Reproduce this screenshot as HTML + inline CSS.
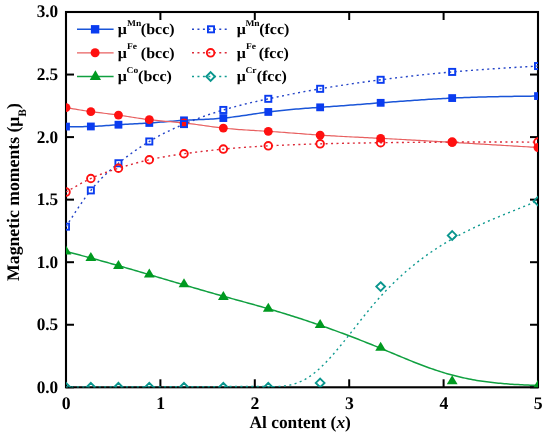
<!DOCTYPE html>
<html><head><meta charset="utf-8"><style>
html,body{margin:0;padding:0;background:#fff;}
svg{display:block;}
text{font-family:"Liberation Serif","Times New Roman",serif;font-weight:bold;fill:#000;text-rendering:geometricPrecision;}
.tk{font-size:17.7px;}
.lg{font-size:16px;}
.sup{font-size:9.5px;}
.sub{font-size:11.5px;}
.ax{font-size:17.4px;}
.ay{font-size:17.7px;}
</style></head><body>
<svg width="550" height="439" viewBox="0 0 550 439">
<defs><clipPath id="pa"><rect x="66" y="12" width="472" height="375.30"/></clipPath></defs>
<rect width="550" height="439" fill="#fff"/>
<line x1="66.00" y1="387.3" x2="66.00" y2="379.30" stroke="#000" stroke-width="2"/>
<line x1="66.00" y1="12" x2="66.00" y2="20" stroke="#000" stroke-width="2"/>
<line x1="160.40" y1="387.3" x2="160.40" y2="379.30" stroke="#000" stroke-width="2"/>
<line x1="160.40" y1="12" x2="160.40" y2="20" stroke="#000" stroke-width="2"/>
<line x1="254.80" y1="387.3" x2="254.80" y2="379.30" stroke="#000" stroke-width="2"/>
<line x1="254.80" y1="12" x2="254.80" y2="20" stroke="#000" stroke-width="2"/>
<line x1="349.20" y1="387.3" x2="349.20" y2="379.30" stroke="#000" stroke-width="2"/>
<line x1="349.20" y1="12" x2="349.20" y2="20" stroke="#000" stroke-width="2"/>
<line x1="443.60" y1="387.3" x2="443.60" y2="379.30" stroke="#000" stroke-width="2"/>
<line x1="443.60" y1="12" x2="443.60" y2="20" stroke="#000" stroke-width="2"/>
<line x1="538.00" y1="387.3" x2="538.00" y2="379.30" stroke="#000" stroke-width="2"/>
<line x1="538.00" y1="12" x2="538.00" y2="20" stroke="#000" stroke-width="2"/>
<line x1="66" y1="387.30" x2="74" y2="387.30" stroke="#000" stroke-width="2"/>
<line x1="538" y1="387.30" x2="530" y2="387.30" stroke="#000" stroke-width="2"/>
<line x1="66" y1="324.75" x2="74" y2="324.75" stroke="#000" stroke-width="2"/>
<line x1="538" y1="324.75" x2="530" y2="324.75" stroke="#000" stroke-width="2"/>
<line x1="66" y1="262.20" x2="74" y2="262.20" stroke="#000" stroke-width="2"/>
<line x1="538" y1="262.20" x2="530" y2="262.20" stroke="#000" stroke-width="2"/>
<line x1="66" y1="199.65" x2="74" y2="199.65" stroke="#000" stroke-width="2"/>
<line x1="538" y1="199.65" x2="530" y2="199.65" stroke="#000" stroke-width="2"/>
<line x1="66" y1="137.10" x2="74" y2="137.10" stroke="#000" stroke-width="2"/>
<line x1="538" y1="137.10" x2="530" y2="137.10" stroke="#000" stroke-width="2"/>
<line x1="66" y1="74.55" x2="74" y2="74.55" stroke="#000" stroke-width="2"/>
<line x1="538" y1="74.55" x2="530" y2="74.55" stroke="#000" stroke-width="2"/>
<line x1="66" y1="12.00" x2="74" y2="12.00" stroke="#000" stroke-width="2"/>
<line x1="538" y1="12.00" x2="530" y2="12.00" stroke="#000" stroke-width="2"/>
<rect x="66" y="12" width="472" height="375.30" fill="none" stroke="#000" stroke-width="2.1"/>
<g clip-path="url(#pa)">
<path d="M66.00,126.59 L68.37,126.62 L70.74,126.64 L73.12,126.66 L75.49,126.67 L77.86,126.68 L80.23,126.67 L82.60,126.65 L84.97,126.62 L87.35,126.57 L89.72,126.51 L92.09,126.42 L94.46,126.31 L96.83,126.19 L99.21,126.05 L101.58,125.90 L103.95,125.74 L106.32,125.57 L108.69,125.40 L111.07,125.23 L113.44,125.06 L115.81,124.89 L118.18,124.73 L120.55,124.58 L122.92,124.44 L125.30,124.30 L127.67,124.17 L130.04,124.05 L132.41,123.92 L134.78,123.80 L137.16,123.68 L139.53,123.55 L141.90,123.42 L144.27,123.28 L146.64,123.14 L149.02,122.98 L151.39,122.82 L153.76,122.65 L156.13,122.47 L158.50,122.28 L160.87,122.09 L163.25,121.90 L165.62,121.71 L167.99,121.51 L170.36,121.32 L172.73,121.13 L175.11,120.95 L177.48,120.77 L179.85,120.61 L182.22,120.45 L184.59,120.30 L186.96,120.17 L189.34,120.04 L191.71,119.92 L194.08,119.81 L196.45,119.71 L198.82,119.60 L201.20,119.49 L203.57,119.38 L205.94,119.27 L208.31,119.15 L210.68,119.02 L213.06,118.88 L215.43,118.72 L217.80,118.55 L220.17,118.37 L222.54,118.16 L224.91,117.93 L227.29,117.68 L229.66,117.41 L232.03,117.13 L234.40,116.82 L236.77,116.51 L239.15,116.18 L241.52,115.84 L243.89,115.50 L246.26,115.15 L248.63,114.80 L251.01,114.44 L253.38,114.08 L255.75,113.73 L258.12,113.38 L260.49,113.03 L262.86,112.69 L265.24,112.36 L267.61,112.04 L269.98,111.74 L272.35,111.45 L274.72,111.17 L277.10,110.90 L279.47,110.64 L281.84,110.40 L284.21,110.16 L286.58,109.94 L288.95,109.72 L291.33,109.51 L293.70,109.30 L296.07,109.11 L298.44,108.92 L300.81,108.73 L303.19,108.55 L305.56,108.37 L307.93,108.20 L310.30,108.03 L312.67,107.86 L315.05,107.69 L317.42,107.52 L319.79,107.35 L322.16,107.18 L324.53,107.01 L326.90,106.84 L329.28,106.67 L331.65,106.50 L334.02,106.33 L336.39,106.15 L338.76,105.98 L341.14,105.80 L343.51,105.63 L345.88,105.45 L348.25,105.27 L350.62,105.10 L352.99,104.92 L355.37,104.74 L357.74,104.56 L360.11,104.38 L362.48,104.20 L364.85,104.02 L367.23,103.84 L369.60,103.66 L371.97,103.48 L374.34,103.30 L376.71,103.12 L379.09,102.94 L381.46,102.76 L383.83,102.58 L386.20,102.40 L388.57,102.22 L390.94,102.04 L393.32,101.86 L395.69,101.68 L398.06,101.51 L400.43,101.33 L402.80,101.16 L405.18,100.98 L407.55,100.81 L409.92,100.64 L412.29,100.47 L414.66,100.31 L417.04,100.14 L419.41,99.98 L421.78,99.82 L424.15,99.66 L426.52,99.51 L428.89,99.36 L431.27,99.21 L433.64,99.07 L436.01,98.93 L438.38,98.79 L440.75,98.66 L443.13,98.53 L445.50,98.40 L447.87,98.28 L450.24,98.16 L452.61,98.05 L454.98,97.94 L457.36,97.84 L459.73,97.74 L462.10,97.64 L464.47,97.55 L466.84,97.46 L469.22,97.38 L471.59,97.30 L473.96,97.23 L476.33,97.15 L478.70,97.09 L481.08,97.02 L483.45,96.96 L485.82,96.90 L488.19,96.84 L490.56,96.79 L492.93,96.73 L495.31,96.68 L497.68,96.64 L500.05,96.59 L502.42,96.55 L504.79,96.51 L507.17,96.47 L509.54,96.43 L511.91,96.40 L514.28,96.36 L516.65,96.33 L519.03,96.30 L521.40,96.27 L523.77,96.24 L526.14,96.21 L528.51,96.18 L530.88,96.15 L533.26,96.12 L535.63,96.09 L538.00,96.07" fill="none" stroke="#1a55d8" stroke-width="1.5"/>
<path d="M66.00,107.58 L68.37,107.99 L70.74,108.39 L73.12,108.80 L75.49,109.20 L77.86,109.59 L80.23,109.98 L82.60,110.36 L84.97,110.72 L87.35,111.08 L89.72,111.42 L92.09,111.75 L94.46,112.06 L96.83,112.37 L99.21,112.66 L101.58,112.95 L103.95,113.24 L106.32,113.52 L108.69,113.81 L111.07,114.11 L113.44,114.41 L115.81,114.72 L118.18,115.04 L120.55,115.39 L122.92,115.74 L125.30,116.11 L127.67,116.48 L130.04,116.86 L132.41,117.24 L134.78,117.61 L137.16,117.99 L139.53,118.35 L141.90,118.71 L144.27,119.05 L146.64,119.37 L149.02,119.68 L151.39,119.96 L153.76,120.22 L156.13,120.46 L158.50,120.69 L160.87,120.91 L163.25,121.12 L165.62,121.32 L167.99,121.51 L170.36,121.71 L172.73,121.91 L175.11,122.11 L177.48,122.32 L179.85,122.54 L182.22,122.78 L184.59,123.03 L186.96,123.30 L189.34,123.58 L191.71,123.88 L194.08,124.19 L196.45,124.51 L198.82,124.83 L201.20,125.16 L203.57,125.50 L205.94,125.83 L208.31,126.16 L210.68,126.49 L213.06,126.81 L215.43,127.13 L217.80,127.43 L220.17,127.73 L222.54,128.00 L224.91,128.27 L227.29,128.51 L229.66,128.74 L232.03,128.96 L234.40,129.16 L236.77,129.35 L239.15,129.53 L241.52,129.70 L243.89,129.86 L246.26,130.02 L248.63,130.17 L251.01,130.32 L253.38,130.46 L255.75,130.60 L258.12,130.74 L260.49,130.87 L262.86,131.01 L265.24,131.16 L267.61,131.30 L269.98,131.45 L272.35,131.61 L274.72,131.77 L277.10,131.93 L279.47,132.10 L281.84,132.27 L284.21,132.44 L286.58,132.62 L288.95,132.80 L291.33,132.98 L293.70,133.16 L296.07,133.34 L298.44,133.52 L300.81,133.70 L303.19,133.88 L305.56,134.06 L307.93,134.23 L310.30,134.41 L312.67,134.58 L315.05,134.75 L317.42,134.91 L319.79,135.07 L322.16,135.23 L324.53,135.38 L326.90,135.53 L329.28,135.68 L331.65,135.82 L334.02,135.96 L336.39,136.10 L338.76,136.23 L341.14,136.36 L343.51,136.49 L345.88,136.61 L348.25,136.74 L350.62,136.86 L352.99,136.98 L355.37,137.10 L357.74,137.22 L360.11,137.34 L362.48,137.45 L364.85,137.57 L367.23,137.69 L369.60,137.80 L371.97,137.92 L374.34,138.04 L376.71,138.15 L379.09,138.27 L381.46,138.39 L383.83,138.51 L386.20,138.63 L388.57,138.76 L390.94,138.88 L393.32,139.01 L395.69,139.13 L398.06,139.26 L400.43,139.39 L402.80,139.52 L405.18,139.65 L407.55,139.78 L409.92,139.91 L412.29,140.04 L414.66,140.18 L417.04,140.31 L419.41,140.44 L421.78,140.58 L424.15,140.72 L426.52,140.85 L428.89,140.99 L431.27,141.13 L433.64,141.26 L436.01,141.40 L438.38,141.54 L440.75,141.68 L443.13,141.82 L445.50,141.96 L447.87,142.10 L450.24,142.24 L452.61,142.38 L454.98,142.52 L457.36,142.66 L459.73,142.80 L462.10,142.94 L464.47,143.08 L466.84,143.22 L469.22,143.36 L471.59,143.51 L473.96,143.65 L476.33,143.79 L478.70,143.93 L481.08,144.07 L483.45,144.21 L485.82,144.35 L488.19,144.50 L490.56,144.64 L492.93,144.78 L495.31,144.92 L497.68,145.06 L500.05,145.21 L502.42,145.35 L504.79,145.49 L507.17,145.63 L509.54,145.77 L511.91,145.92 L514.28,146.06 L516.65,146.20 L519.03,146.34 L521.40,146.49 L523.77,146.63 L526.14,146.77 L528.51,146.91 L530.88,147.06 L533.26,147.20 L535.63,147.34 L538.00,147.48" fill="none" stroke="#e86060" stroke-width="1.2"/>
<path d="M66.00,251.59 L67.97,252.08 L69.95,252.57 L71.92,253.07 L73.90,253.57 L75.87,254.07 L77.85,254.58 L79.82,255.09 L81.80,255.61 L83.77,256.12 L85.75,256.64 L87.72,257.17 L89.70,257.69 L91.67,258.22 L93.65,258.76 L95.62,259.29 L97.60,259.83 L99.57,260.37 L101.55,260.92 L103.52,261.46 L105.50,262.01 L107.47,262.56 L109.45,263.11 L111.42,263.67 L113.40,264.23 L115.37,264.78 L117.35,265.35 L119.32,265.91 L121.30,266.47 L123.27,267.04 L125.25,267.61 L127.22,268.18 L129.20,268.75 L131.17,269.32 L133.15,269.90 L135.12,270.47 L137.10,271.05 L139.07,271.62 L141.05,272.20 L143.02,272.78 L145.00,273.36 L146.97,273.94 L148.95,274.53 L150.92,275.11 L152.90,275.69 L154.87,276.27 L156.85,276.86 L158.82,277.44 L160.79,278.03 L162.77,278.61 L164.74,279.20 L166.72,279.78 L168.69,280.37 L170.67,280.95 L172.64,281.54 L174.62,282.12 L176.59,282.70 L178.57,283.29 L180.54,283.87 L182.52,284.45 L184.49,285.04 L186.47,285.62 L188.44,286.20 L190.42,286.78 L192.39,287.35 L194.37,287.93 L196.34,288.51 L198.32,289.08 L200.29,289.66 L202.27,290.23 L204.24,290.80 L206.22,291.37 L208.19,291.94 L210.17,292.50 L212.14,293.07 L214.12,293.63 L216.09,294.19 L218.07,294.75 L220.04,295.31 L222.02,295.86 L223.99,296.41 L225.97,296.96 L227.94,297.51 L229.92,298.05 L231.89,298.60 L233.87,299.14 L235.84,299.68 L237.82,300.23 L239.79,300.77 L241.77,301.31 L243.74,301.85 L245.72,302.39 L247.69,302.94 L249.67,303.48 L251.64,304.03 L253.62,304.58 L255.59,305.13 L257.56,305.68 L259.54,306.24 L261.51,306.80 L263.49,307.36 L265.46,307.92 L267.44,308.49 L269.41,309.07 L271.39,309.65 L273.36,310.23 L275.34,310.81 L277.31,311.41 L279.29,312.00 L281.26,312.60 L283.24,313.20 L285.21,313.81 L287.19,314.42 L289.16,315.04 L291.14,315.66 L293.11,316.29 L295.09,316.92 L297.06,317.55 L299.04,318.19 L301.01,318.83 L302.99,319.48 L304.96,320.13 L306.94,320.78 L308.91,321.44 L310.89,322.11 L312.86,322.78 L314.84,323.45 L316.81,324.12 L318.79,324.81 L320.76,325.49 L322.74,326.18 L324.71,326.87 L326.69,327.57 L328.66,328.27 L330.64,328.98 L332.61,329.69 L334.59,330.41 L336.56,331.13 L338.54,331.85 L340.51,332.58 L342.49,333.31 L344.46,334.05 L346.44,334.79 L348.41,335.53 L350.38,336.28 L352.36,337.04 L354.33,337.79 L356.31,338.56 L358.28,339.32 L360.26,340.09 L362.23,340.87 L364.21,341.65 L366.18,342.43 L368.16,343.22 L370.13,344.01 L372.11,344.81 L374.08,345.61 L376.06,346.41 L378.03,347.22 L380.01,348.03 L381.98,348.85 L383.96,349.67 L385.93,350.50 L387.91,351.32 L389.88,352.15 L391.86,352.98 L393.83,353.81 L395.81,354.64 L397.78,355.47 L399.76,356.29 L401.73,357.11 L403.71,357.93 L405.68,358.75 L407.66,359.56 L409.63,360.36 L411.61,361.16 L413.58,361.95 L415.56,362.74 L417.53,363.51 L419.51,364.28 L421.48,365.04 L423.46,365.78 L425.43,366.52 L427.41,367.24 L429.38,367.95 L431.36,368.65 L433.33,369.33 L435.31,370.00 L437.28,370.65 L439.26,371.28 L441.23,371.91 L443.21,372.51 L445.18,373.10 L447.15,373.67 L449.13,374.23 L451.10,374.78 L453.08,375.30 L455.05,375.82 L457.03,376.31 L459.00,376.79 L460.98,377.26 L462.95,377.70 L464.93,378.14 L466.90,378.55 L468.88,378.96 L470.85,379.34 L472.83,379.71 L474.80,380.06 L476.78,380.40 L478.75,380.72 L480.73,381.03 L482.70,381.32 L484.68,381.60 L486.65,381.86 L488.63,382.11 L490.60,382.35 L492.58,382.58 L494.55,382.79 L496.53,382.99 L498.50,383.18 L500.48,383.37 L502.45,383.54 L504.43,383.70 L506.40,383.85 L508.38,383.99 L510.35,384.13 L512.33,384.26 L514.30,384.38 L516.28,384.49 L518.25,384.59 L520.23,384.70 L522.20,384.79 L524.18,384.88 L526.15,384.97 L528.13,385.05 L530.10,385.13 L532.08,385.20 L534.05,385.27 L536.03,385.34 L538.00,385.41" fill="none" stroke="#10a040" stroke-width="1.5"/>
<path d="M66.00,226.67 L68.37,222.96 L70.74,219.26 L73.12,215.59 L75.49,211.96 L77.86,208.38 L80.23,204.88 L82.60,201.46 L84.97,198.13 L87.35,194.91 L89.72,191.82 L92.09,188.86 L94.46,186.04 L96.83,183.35 L99.21,180.78 L101.58,178.33 L103.95,175.97 L106.32,173.71 L108.69,171.53 L111.07,169.43 L113.44,167.39 L115.81,165.40 L118.18,163.46 L120.55,161.56 L122.92,159.70 L125.30,157.87 L127.67,156.08 L130.04,154.32 L132.41,152.61 L134.78,150.93 L137.16,149.29 L139.53,147.68 L141.90,146.12 L144.27,144.59 L146.64,143.10 L149.02,141.65 L151.39,140.24 L153.76,138.87 L156.13,137.53 L158.50,136.23 L160.87,134.96 L163.25,133.73 L165.62,132.52 L167.99,131.35 L170.36,130.20 L172.73,129.08 L175.11,127.99 L177.48,126.92 L179.85,125.87 L182.22,124.85 L184.59,123.84 L186.96,122.85 L189.34,121.88 L191.71,120.93 L194.08,120.00 L196.45,119.08 L198.82,118.19 L201.20,117.31 L203.57,116.45 L205.94,115.60 L208.31,114.78 L210.68,113.97 L213.06,113.18 L215.43,112.41 L217.80,111.65 L220.17,110.91 L222.54,110.19 L224.91,109.49 L227.29,108.80 L229.66,108.13 L232.03,107.47 L234.40,106.82 L236.77,106.19 L239.15,105.58 L241.52,104.97 L243.89,104.38 L246.26,103.80 L248.63,103.23 L251.01,102.67 L253.38,102.12 L255.75,101.58 L258.12,101.04 L260.49,100.51 L262.86,99.99 L265.24,99.48 L267.61,98.97 L269.98,98.46 L272.35,97.96 L274.72,97.46 L277.10,96.97 L279.47,96.48 L281.84,95.99 L284.21,95.52 L286.58,95.04 L288.95,94.57 L291.33,94.10 L293.70,93.64 L296.07,93.18 L298.44,92.73 L300.81,92.28 L303.19,91.84 L305.56,91.40 L307.93,90.97 L310.30,90.54 L312.67,90.12 L315.05,89.70 L317.42,89.28 L319.79,88.87 L322.16,88.47 L324.53,88.07 L326.90,87.67 L329.28,87.28 L331.65,86.90 L334.02,86.52 L336.39,86.14 L338.76,85.77 L341.14,85.40 L343.51,85.03 L345.88,84.67 L348.25,84.32 L350.62,83.96 L352.99,83.62 L355.37,83.27 L357.74,82.93 L360.11,82.59 L362.48,82.26 L364.85,81.93 L367.23,81.60 L369.60,81.28 L371.97,80.95 L374.34,80.64 L376.71,80.32 L379.09,80.01 L381.46,79.70 L383.83,79.39 L386.20,79.09 L388.57,78.79 L390.94,78.49 L393.32,78.20 L395.69,77.91 L398.06,77.62 L400.43,77.33 L402.80,77.05 L405.18,76.77 L407.55,76.49 L409.92,76.22 L412.29,75.95 L414.66,75.68 L417.04,75.42 L419.41,75.16 L421.78,74.90 L424.15,74.65 L426.52,74.40 L428.89,74.15 L431.27,73.91 L433.64,73.67 L436.01,73.43 L438.38,73.20 L440.75,72.97 L443.13,72.75 L445.50,72.53 L447.87,72.31 L450.24,72.09 L452.61,71.88 L454.98,71.68 L457.36,71.48 L459.73,71.28 L462.10,71.08 L464.47,70.89 L466.84,70.70 L469.22,70.52 L471.59,70.33 L473.96,70.15 L476.33,69.98 L478.70,69.80 L481.08,69.63 L483.45,69.46 L485.82,69.30 L488.19,69.13 L490.56,68.97 L492.93,68.81 L495.31,68.65 L497.68,68.50 L500.05,68.35 L502.42,68.19 L504.79,68.04 L507.17,67.89 L509.54,67.75 L511.91,67.60 L514.28,67.45 L516.65,67.31 L519.03,67.17 L521.40,67.02 L523.77,66.88 L526.14,66.74 L528.51,66.60 L530.88,66.46 L533.26,66.32 L535.63,66.18 L538.00,66.04" fill="none" stroke="#2545c8" stroke-width="1.4" stroke-dasharray="2 3.45"/>
<path d="M66.00,192.02 L68.37,190.64 L70.74,189.26 L73.12,187.89 L75.49,186.54 L77.86,185.21 L80.23,183.91 L82.60,182.63 L84.97,181.39 L87.35,180.19 L89.72,179.04 L92.09,177.94 L94.46,176.88 L96.83,175.88 L99.21,174.92 L101.58,173.99 L103.95,173.11 L106.32,172.25 L108.69,171.43 L111.07,170.63 L113.44,169.85 L115.81,169.08 L118.18,168.33 L120.55,167.59 L122.92,166.86 L125.30,166.15 L127.67,165.44 L130.04,164.75 L132.41,164.07 L134.78,163.41 L137.16,162.76 L139.53,162.13 L141.90,161.52 L144.27,160.93 L146.64,160.36 L149.02,159.81 L151.39,159.28 L153.76,158.78 L156.13,158.29 L158.50,157.83 L160.87,157.38 L163.25,156.95 L165.62,156.54 L167.99,156.14 L170.36,155.75 L172.73,155.38 L175.11,155.02 L177.48,154.67 L179.85,154.32 L182.22,153.99 L184.59,153.66 L186.96,153.33 L189.34,153.01 L191.71,152.70 L194.08,152.39 L196.45,152.09 L198.82,151.80 L201.20,151.51 L203.57,151.23 L205.94,150.95 L208.31,150.68 L210.68,150.41 L213.06,150.15 L215.43,149.90 L217.80,149.66 L220.17,149.42 L222.54,149.19 L224.91,148.96 L227.29,148.74 L229.66,148.53 L232.03,148.32 L234.40,148.12 L236.77,147.93 L239.15,147.74 L241.52,147.56 L243.89,147.38 L246.26,147.21 L248.63,147.05 L251.01,146.89 L253.38,146.73 L255.75,146.58 L258.12,146.44 L260.49,146.29 L262.86,146.16 L265.24,146.02 L267.61,145.89 L269.98,145.77 L272.35,145.65 L274.72,145.53 L277.10,145.41 L279.47,145.30 L281.84,145.19 L284.21,145.09 L286.58,144.99 L288.95,144.89 L291.33,144.80 L293.70,144.70 L296.07,144.62 L298.44,144.53 L300.81,144.45 L303.19,144.36 L305.56,144.29 L307.93,144.21 L310.30,144.14 L312.67,144.07 L315.05,144.00 L317.42,143.93 L319.79,143.87 L322.16,143.80 L324.53,143.74 L326.90,143.68 L329.28,143.63 L331.65,143.57 L334.02,143.52 L336.39,143.46 L338.76,143.41 L341.14,143.37 L343.51,143.32 L345.88,143.27 L348.25,143.23 L350.62,143.18 L352.99,143.14 L355.37,143.10 L357.74,143.06 L360.11,143.02 L362.48,142.99 L364.85,142.95 L367.23,142.91 L369.60,142.88 L371.97,142.85 L374.34,142.81 L376.71,142.78 L379.09,142.75 L381.46,142.72 L383.83,142.69 L386.20,142.66 L388.57,142.63 L390.94,142.60 L393.32,142.57 L395.69,142.55 L398.06,142.52 L400.43,142.49 L402.80,142.47 L405.18,142.44 L407.55,142.42 L409.92,142.40 L412.29,142.38 L414.66,142.35 L417.04,142.33 L419.41,142.31 L421.78,142.29 L424.15,142.27 L426.52,142.25 L428.89,142.24 L431.27,142.22 L433.64,142.20 L436.01,142.19 L438.38,142.17 L440.75,142.16 L443.13,142.15 L445.50,142.13 L447.87,142.12 L450.24,142.11 L452.61,142.10 L454.98,142.09 L457.36,142.08 L459.73,142.08 L462.10,142.07 L464.47,142.06 L466.84,142.06 L469.22,142.05 L471.59,142.05 L473.96,142.05 L476.33,142.04 L478.70,142.04 L481.08,142.04 L483.45,142.04 L485.82,142.04 L488.19,142.04 L490.56,142.04 L492.93,142.04 L495.31,142.04 L497.68,142.04 L500.05,142.04 L502.42,142.04 L504.79,142.05 L507.17,142.05 L509.54,142.05 L511.91,142.06 L514.28,142.06 L516.65,142.06 L519.03,142.07 L521.40,142.07 L523.77,142.08 L526.14,142.08 L528.51,142.08 L530.88,142.09 L533.26,142.09 L535.63,142.10 L538.00,142.10" fill="none" stroke="#dc2a38" stroke-width="1.4" stroke-dasharray="2 3.45"/>
<path d="M66.00,387.30 L262.00,386.37 L263.39,386.44 L264.77,386.51 L266.16,386.56 L267.55,386.62 L268.93,386.66 L270.32,386.69 L271.71,386.70 L273.10,386.71 L274.48,386.69 L275.87,386.66 L277.26,386.61 L278.64,386.55 L280.03,386.45 L281.42,386.34 L282.80,386.20 L284.19,386.04 L285.58,385.84 L286.96,385.62 L288.35,385.37 L289.74,385.08 L291.13,384.76 L292.51,384.40 L293.90,384.01 L295.29,383.58 L296.67,383.11 L298.06,382.59 L299.45,382.04 L300.83,381.44 L302.22,380.79 L303.61,380.09 L304.99,379.35 L306.38,378.55 L307.77,377.71 L309.16,376.80 L310.54,375.85 L311.93,374.85 L313.32,373.80 L314.70,372.70 L316.09,371.56 L317.48,370.37 L318.86,369.15 L320.25,367.88 L321.64,366.57 L323.03,365.22 L324.41,363.84 L325.80,362.43 L327.19,360.98 L328.57,359.50 L329.96,357.99 L331.35,356.46 L332.73,354.89 L334.12,353.31 L335.51,351.70 L336.89,350.06 L338.28,348.41 L339.67,346.74 L341.06,345.05 L342.44,343.35 L343.83,341.63 L345.22,339.90 L346.60,338.16 L347.99,336.41 L349.38,334.65 L350.76,332.89 L352.15,331.12 L353.54,329.35 L354.92,327.58 L356.31,325.81 L357.70,324.04 L359.09,322.27 L360.47,320.51 L361.86,318.75 L363.25,317.01 L364.63,315.27 L366.02,313.54 L367.41,311.83 L368.79,310.13 L370.18,308.45 L371.57,306.78 L372.95,305.14 L374.34,303.51 L375.73,301.90 L377.12,300.32 L378.50,298.75 L379.89,297.21 L381.28,295.68 L382.66,294.17 L384.05,292.68 L385.44,291.21 L386.82,289.76 L388.21,288.33 L389.60,286.92 L390.98,285.52 L392.37,284.14 L393.76,282.78 L395.15,281.44 L396.53,280.11 L397.92,278.80 L399.31,277.51 L400.69,276.24 L402.08,274.98 L403.47,273.74 L404.85,272.51 L406.24,271.30 L407.63,270.11 L409.02,268.93 L410.40,267.77 L411.79,266.62 L413.18,265.49 L414.56,264.37 L415.95,263.27 L417.34,262.18 L418.72,261.10 L420.11,260.04 L421.50,259.00 L422.88,257.96 L424.27,256.94 L425.66,255.94 L427.05,254.94 L428.43,253.96 L429.82,253.00 L431.21,252.04 L432.59,251.10 L433.98,250.17 L435.37,249.25 L436.75,248.34 L438.14,247.45 L439.53,246.56 L440.91,245.69 L442.30,244.83 L443.69,243.98 L445.08,243.14 L446.46,242.31 L447.85,241.49 L449.24,240.68 L450.62,239.87 L452.01,239.08 L453.40,238.30 L454.78,237.53 L456.17,236.77 L457.56,236.01 L458.94,235.27 L460.33,234.53 L461.72,233.80 L463.11,233.08 L464.49,232.37 L465.88,231.66 L467.27,230.97 L468.65,230.28 L470.04,229.59 L471.43,228.92 L472.81,228.25 L474.20,227.58 L475.59,226.92 L476.97,226.27 L478.36,225.63 L479.75,224.99 L481.14,224.36 L482.52,223.73 L483.91,223.10 L485.30,222.49 L486.68,221.87 L488.07,221.26 L489.46,220.66 L490.84,220.06 L492.23,219.46 L493.62,218.87 L495.01,218.28 L496.39,217.70 L497.78,217.11 L499.17,216.53 L500.55,215.96 L501.94,215.38 L503.33,214.81 L504.71,214.24 L506.10,213.68 L507.49,213.11 L508.87,212.55 L510.26,211.99 L511.65,211.43 L513.04,210.87 L514.42,210.31 L515.81,209.75 L517.20,209.19 L518.58,208.64 L519.97,208.08 L521.36,207.52 L522.74,206.96 L524.13,206.41 L525.52,205.85 L526.90,205.29 L528.29,204.73 L529.68,204.17 L531.07,203.60 L532.45,203.04 L533.84,202.47 L535.23,201.90 L536.61,201.33 L538.00,200.76" fill="none" stroke="#109a90" stroke-width="1.4" stroke-dasharray="2 3.45"/>
<line x1="66" y1="387.30" x2="270" y2="387.30" stroke="#109a90" stroke-width="1.4" stroke-dasharray="2 3.45"/>
<rect x="62.10" y="122.69" width="7.8" height="7.8" fill="#0a3cf0"/>
<rect x="86.95" y="122.57" width="7.8" height="7.8" fill="#0a3cf0"/>
<rect x="114.55" y="120.82" width="7.8" height="7.8" fill="#0a3cf0"/>
<rect x="145.40" y="119.06" width="7.8" height="7.8" fill="#0a3cf0"/>
<rect x="180.10" y="116.44" width="7.8" height="7.8" fill="#0a3cf0"/>
<rect x="219.44" y="114.18" width="7.8" height="7.8" fill="#0a3cf0"/>
<rect x="264.39" y="108.05" width="7.8" height="7.8" fill="#0a3cf0"/>
<rect x="316.25" y="103.43" width="7.8" height="7.8" fill="#0a3cf0"/>
<rect x="376.76" y="98.92" width="7.8" height="7.8" fill="#0a3cf0"/>
<rect x="448.28" y="94.17" width="7.8" height="7.8" fill="#0a3cf0"/>
<rect x="534.10" y="92.17" width="7.8" height="7.8" fill="#0a3cf0"/>
<circle cx="66.00" cy="107.58" r="4.45" fill="#ff1010"/>
<circle cx="90.85" cy="111.58" r="4.45" fill="#ff1010"/>
<circle cx="118.45" cy="115.08" r="4.45" fill="#ff1010"/>
<circle cx="149.30" cy="119.71" r="4.45" fill="#ff1010"/>
<circle cx="184.00" cy="122.96" r="4.45" fill="#ff1010"/>
<circle cx="223.34" cy="128.09" r="4.45" fill="#ff1010"/>
<circle cx="268.29" cy="131.35" r="4.45" fill="#ff1010"/>
<circle cx="320.15" cy="135.10" r="4.45" fill="#ff1010"/>
<circle cx="380.66" cy="138.35" r="4.45" fill="#ff1010"/>
<circle cx="452.18" cy="142.35" r="4.45" fill="#ff1010"/>
<circle cx="538.00" cy="147.48" r="4.45" fill="#ff1010"/>
<polygon points="66.00,245.57 60.60,254.57 71.40,254.57" fill="#009a20"/>
<polygon points="90.85,251.95 85.45,260.95 96.25,260.95" fill="#009a20"/>
<polygon points="118.45,259.95 113.05,268.95 123.85,268.95" fill="#009a20"/>
<polygon points="149.30,268.46 143.90,277.46 154.70,277.46" fill="#009a20"/>
<polygon points="184.00,278.34 178.60,287.34 189.40,287.34" fill="#009a20"/>
<polygon points="223.34,290.98 217.94,299.98 228.74,299.98" fill="#009a20"/>
<polygon points="268.29,302.74 262.89,311.74 273.69,311.74" fill="#009a20"/>
<polygon points="320.15,319.00 314.75,328.00 325.55,328.00" fill="#009a20"/>
<polygon points="380.66,341.64 375.26,350.64 386.06,350.64" fill="#009a20"/>
<polygon points="452.18,375.17 446.78,384.17 457.58,384.17" fill="#009a20"/>
<polygon points="538.00,379.80 532.60,388.80 543.40,388.80" fill="#009a20"/>
<rect x="62.95" y="223.62" width="6.10" height="6.10" fill="none" stroke="#0a3cf0" stroke-width="1.9"/>
<rect x="87.80" y="187.34" width="6.10" height="6.10" fill="none" stroke="#0a3cf0" stroke-width="1.9"/>
<rect x="115.40" y="160.20" width="6.10" height="6.10" fill="none" stroke="#0a3cf0" stroke-width="1.9"/>
<rect x="146.25" y="138.43" width="6.10" height="6.10" fill="none" stroke="#0a3cf0" stroke-width="1.9"/>
<rect x="180.95" y="121.04" width="6.10" height="6.10" fill="none" stroke="#0a3cf0" stroke-width="1.9"/>
<rect x="220.29" y="106.90" width="6.10" height="6.10" fill="none" stroke="#0a3cf0" stroke-width="1.9"/>
<rect x="265.24" y="95.77" width="6.10" height="6.10" fill="none" stroke="#0a3cf0" stroke-width="1.9"/>
<rect x="317.10" y="85.76" width="6.10" height="6.10" fill="none" stroke="#0a3cf0" stroke-width="1.9"/>
<rect x="377.61" y="76.75" width="6.10" height="6.10" fill="none" stroke="#0a3cf0" stroke-width="1.9"/>
<rect x="449.13" y="68.87" width="6.10" height="6.10" fill="none" stroke="#0a3cf0" stroke-width="1.9"/>
<rect x="534.95" y="62.99" width="6.10" height="6.10" fill="none" stroke="#0a3cf0" stroke-width="1.9"/>
<circle cx="66.00" cy="192.02" r="3.80" fill="none" stroke="#ff1010" stroke-width="1.9"/>
<circle cx="90.85" cy="178.51" r="3.80" fill="none" stroke="#ff1010" stroke-width="1.9"/>
<circle cx="118.45" cy="168.25" r="3.80" fill="none" stroke="#ff1010" stroke-width="1.9"/>
<circle cx="149.30" cy="159.74" r="3.80" fill="none" stroke="#ff1010" stroke-width="1.9"/>
<circle cx="184.00" cy="153.74" r="3.80" fill="none" stroke="#ff1010" stroke-width="1.9"/>
<circle cx="223.34" cy="149.11" r="3.80" fill="none" stroke="#ff1010" stroke-width="1.9"/>
<circle cx="268.29" cy="145.86" r="3.80" fill="none" stroke="#ff1010" stroke-width="1.9"/>
<circle cx="320.15" cy="143.86" r="3.80" fill="none" stroke="#ff1010" stroke-width="1.9"/>
<circle cx="380.66" cy="142.73" r="3.80" fill="none" stroke="#ff1010" stroke-width="1.9"/>
<circle cx="452.18" cy="142.10" r="3.80" fill="none" stroke="#ff1010" stroke-width="1.9"/>
<circle cx="538.00" cy="142.10" r="3.80" fill="none" stroke="#ff1010" stroke-width="1.9"/>
<polygon points="66.00,382.93 70.37,387.30 66.00,391.67 61.63,387.30" fill="none" stroke="#0a968e" stroke-width="1.9" stroke-linejoin="miter"/>
<polygon points="90.85,382.93 95.22,387.30 90.85,391.67 86.48,387.30" fill="none" stroke="#0a968e" stroke-width="1.9" stroke-linejoin="miter"/>
<polygon points="118.45,382.93 122.82,387.30 118.45,391.67 114.08,387.30" fill="none" stroke="#0a968e" stroke-width="1.9" stroke-linejoin="miter"/>
<polygon points="149.30,382.93 153.67,387.30 149.30,391.67 144.93,387.30" fill="none" stroke="#0a968e" stroke-width="1.9" stroke-linejoin="miter"/>
<polygon points="184.00,382.93 188.37,387.30 184.00,391.67 179.63,387.30" fill="none" stroke="#0a968e" stroke-width="1.9" stroke-linejoin="miter"/>
<polygon points="223.34,382.93 227.71,387.30 223.34,391.67 218.97,387.30" fill="none" stroke="#0a968e" stroke-width="1.9" stroke-linejoin="miter"/>
<polygon points="268.29,382.93 272.66,387.30 268.29,391.67 263.92,387.30" fill="none" stroke="#0a968e" stroke-width="1.9" stroke-linejoin="miter"/>
<polygon points="320.15,378.55 324.52,382.92 320.15,387.29 315.78,382.92" fill="none" stroke="#0a968e" stroke-width="1.9" stroke-linejoin="miter"/>
<polygon points="380.66,282.22 385.03,286.59 380.66,290.96 376.29,286.59" fill="none" stroke="#0a968e" stroke-width="1.9" stroke-linejoin="miter"/>
<polygon points="452.18,231.06 456.55,235.43 452.18,239.80 447.81,235.43" fill="none" stroke="#0a968e" stroke-width="1.9" stroke-linejoin="miter"/>
<polygon points="538.00,196.78 542.37,201.15 538.00,205.52 533.63,201.15" fill="none" stroke="#0a968e" stroke-width="1.9" stroke-linejoin="miter"/>
</g>
<text transform="translate(58.2,392.70) scale(0.975,1.0)" text-anchor="end" class="tk">0.0</text>
<text transform="translate(58.2,330.15) scale(0.975,1.0)" text-anchor="end" class="tk">0.5</text>
<text transform="translate(58.2,267.60) scale(0.975,1.0)" text-anchor="end" class="tk">1.0</text>
<text transform="translate(58.2,205.05) scale(0.975,1.0)" text-anchor="end" class="tk">1.5</text>
<text transform="translate(58.2,142.50) scale(0.975,1.0)" text-anchor="end" class="tk">2.0</text>
<text transform="translate(58.2,79.95) scale(0.975,1.0)" text-anchor="end" class="tk">2.5</text>
<text transform="translate(58.2,17.40) scale(0.975,1.0)" text-anchor="end" class="tk">3.0</text>
<text transform="translate(66.20,409.3) scale(1,1.0)" text-anchor="middle" class="tk">0</text>
<text transform="translate(160.60,409.3) scale(1,1.0)" text-anchor="middle" class="tk">1</text>
<text transform="translate(255.00,409.3) scale(1,1.0)" text-anchor="middle" class="tk">2</text>
<text transform="translate(349.40,409.3) scale(1,1.0)" text-anchor="middle" class="tk">3</text>
<text transform="translate(443.80,409.3) scale(1,1.0)" text-anchor="middle" class="tk">4</text>
<text transform="translate(538.20,409.3) scale(1,1.0)" text-anchor="middle" class="tk">5</text>
<line x1="77" y1="29.3" x2="113.6" y2="29.3" stroke="#1a55d8" stroke-width="1.5"/>
<rect x="90.90" y="25.10" width="8.4" height="8.4" fill="#0a3cf0"/>
<line x1="77" y1="52.8" x2="113.6" y2="52.8" stroke="#e86060" stroke-width="1.2"/>
<circle cx="95.10" cy="52.80" r="4.5" fill="#ff1010"/>
<line x1="77" y1="76.5" x2="113.6" y2="76.5" stroke="#10a040" stroke-width="1.5"/>
<polygon points="95.40,70.30 89.75,79.90 101.05,79.90" fill="#009a20"/>
<line x1="192" y1="29.3" x2="228" y2="29.3" stroke="#2545c8" stroke-width="1.4" stroke-dasharray="2 3.45"/>
<rect x="207.95" y="26.25" width="6.10" height="6.10" fill="none" stroke="#0a3cf0" stroke-width="1.9"/>
<line x1="192" y1="52.8" x2="228" y2="52.8" stroke="#dc2a38" stroke-width="1.4" stroke-dasharray="2 3.45"/>
<circle cx="210.60" cy="52.80" r="3.80" fill="none" stroke="#ff1010" stroke-width="1.9"/>
<line x1="192" y1="76.5" x2="228" y2="76.5" stroke="#109a90" stroke-width="1.4" stroke-dasharray="2 3.45"/>
<polygon points="210.60,72.13 214.97,76.50 210.60,80.87 206.23,76.50" fill="none" stroke="#0a968e" stroke-width="1.9" stroke-linejoin="miter"/>
<g transform="translate(0,34.2) scale(1,0.94)"><text x="117.8" y="0" class="lg">μ</text><text x="127.0" y="-8.8" class="sup">Mn</text><text x="140.8" y="0" class="lg">(bcc)</text></g>
<g transform="translate(0,57.6) scale(1,0.94)"><text x="117.8" y="0" class="lg">μ</text><text x="127.0" y="-8.8" class="sup">Fe</text><text x="140.8" y="0" class="lg">(bcc)</text></g>
<g transform="translate(0,80.9) scale(1,0.94)"><text x="117.8" y="0" class="lg">μ</text><text x="126.6" y="-8.8" class="sup">Co</text><text x="138.1" y="0" class="lg">(bcc)</text></g>
<g transform="translate(0,34.2) scale(1,0.94)"><text x="236.8" y="0" class="lg">μ</text><text x="245.4" y="-8.8" class="sup">Mn</text><text x="259.2" y="0" class="lg">(fcc)</text></g>
<g transform="translate(0,57.6) scale(1,0.94)"><text x="236.8" y="0" class="lg">μ</text><text x="246.0" y="-8.8" class="sup">Fe</text><text x="258.7" y="0" class="lg">(fcc)</text></g>
<g transform="translate(0,80.9) scale(1,0.94)"><text x="236.8" y="0" class="lg">μ</text><text x="245.4" y="-8.8" class="sup">Cr</text><text x="256.7" y="0" class="lg">(fcc)</text></g>
<text x="300.2" y="428.4" text-anchor="middle" class="ax">Al content (<tspan font-style="italic">x</tspan>)</text>
<text transform="translate(19.0,280.9) rotate(-90)" class="ay">Magnetic moments (μ<tspan class="sub" dy="7">B</tspan><tspan dy="-7">)</tspan></text>
</svg>
</body></html>
